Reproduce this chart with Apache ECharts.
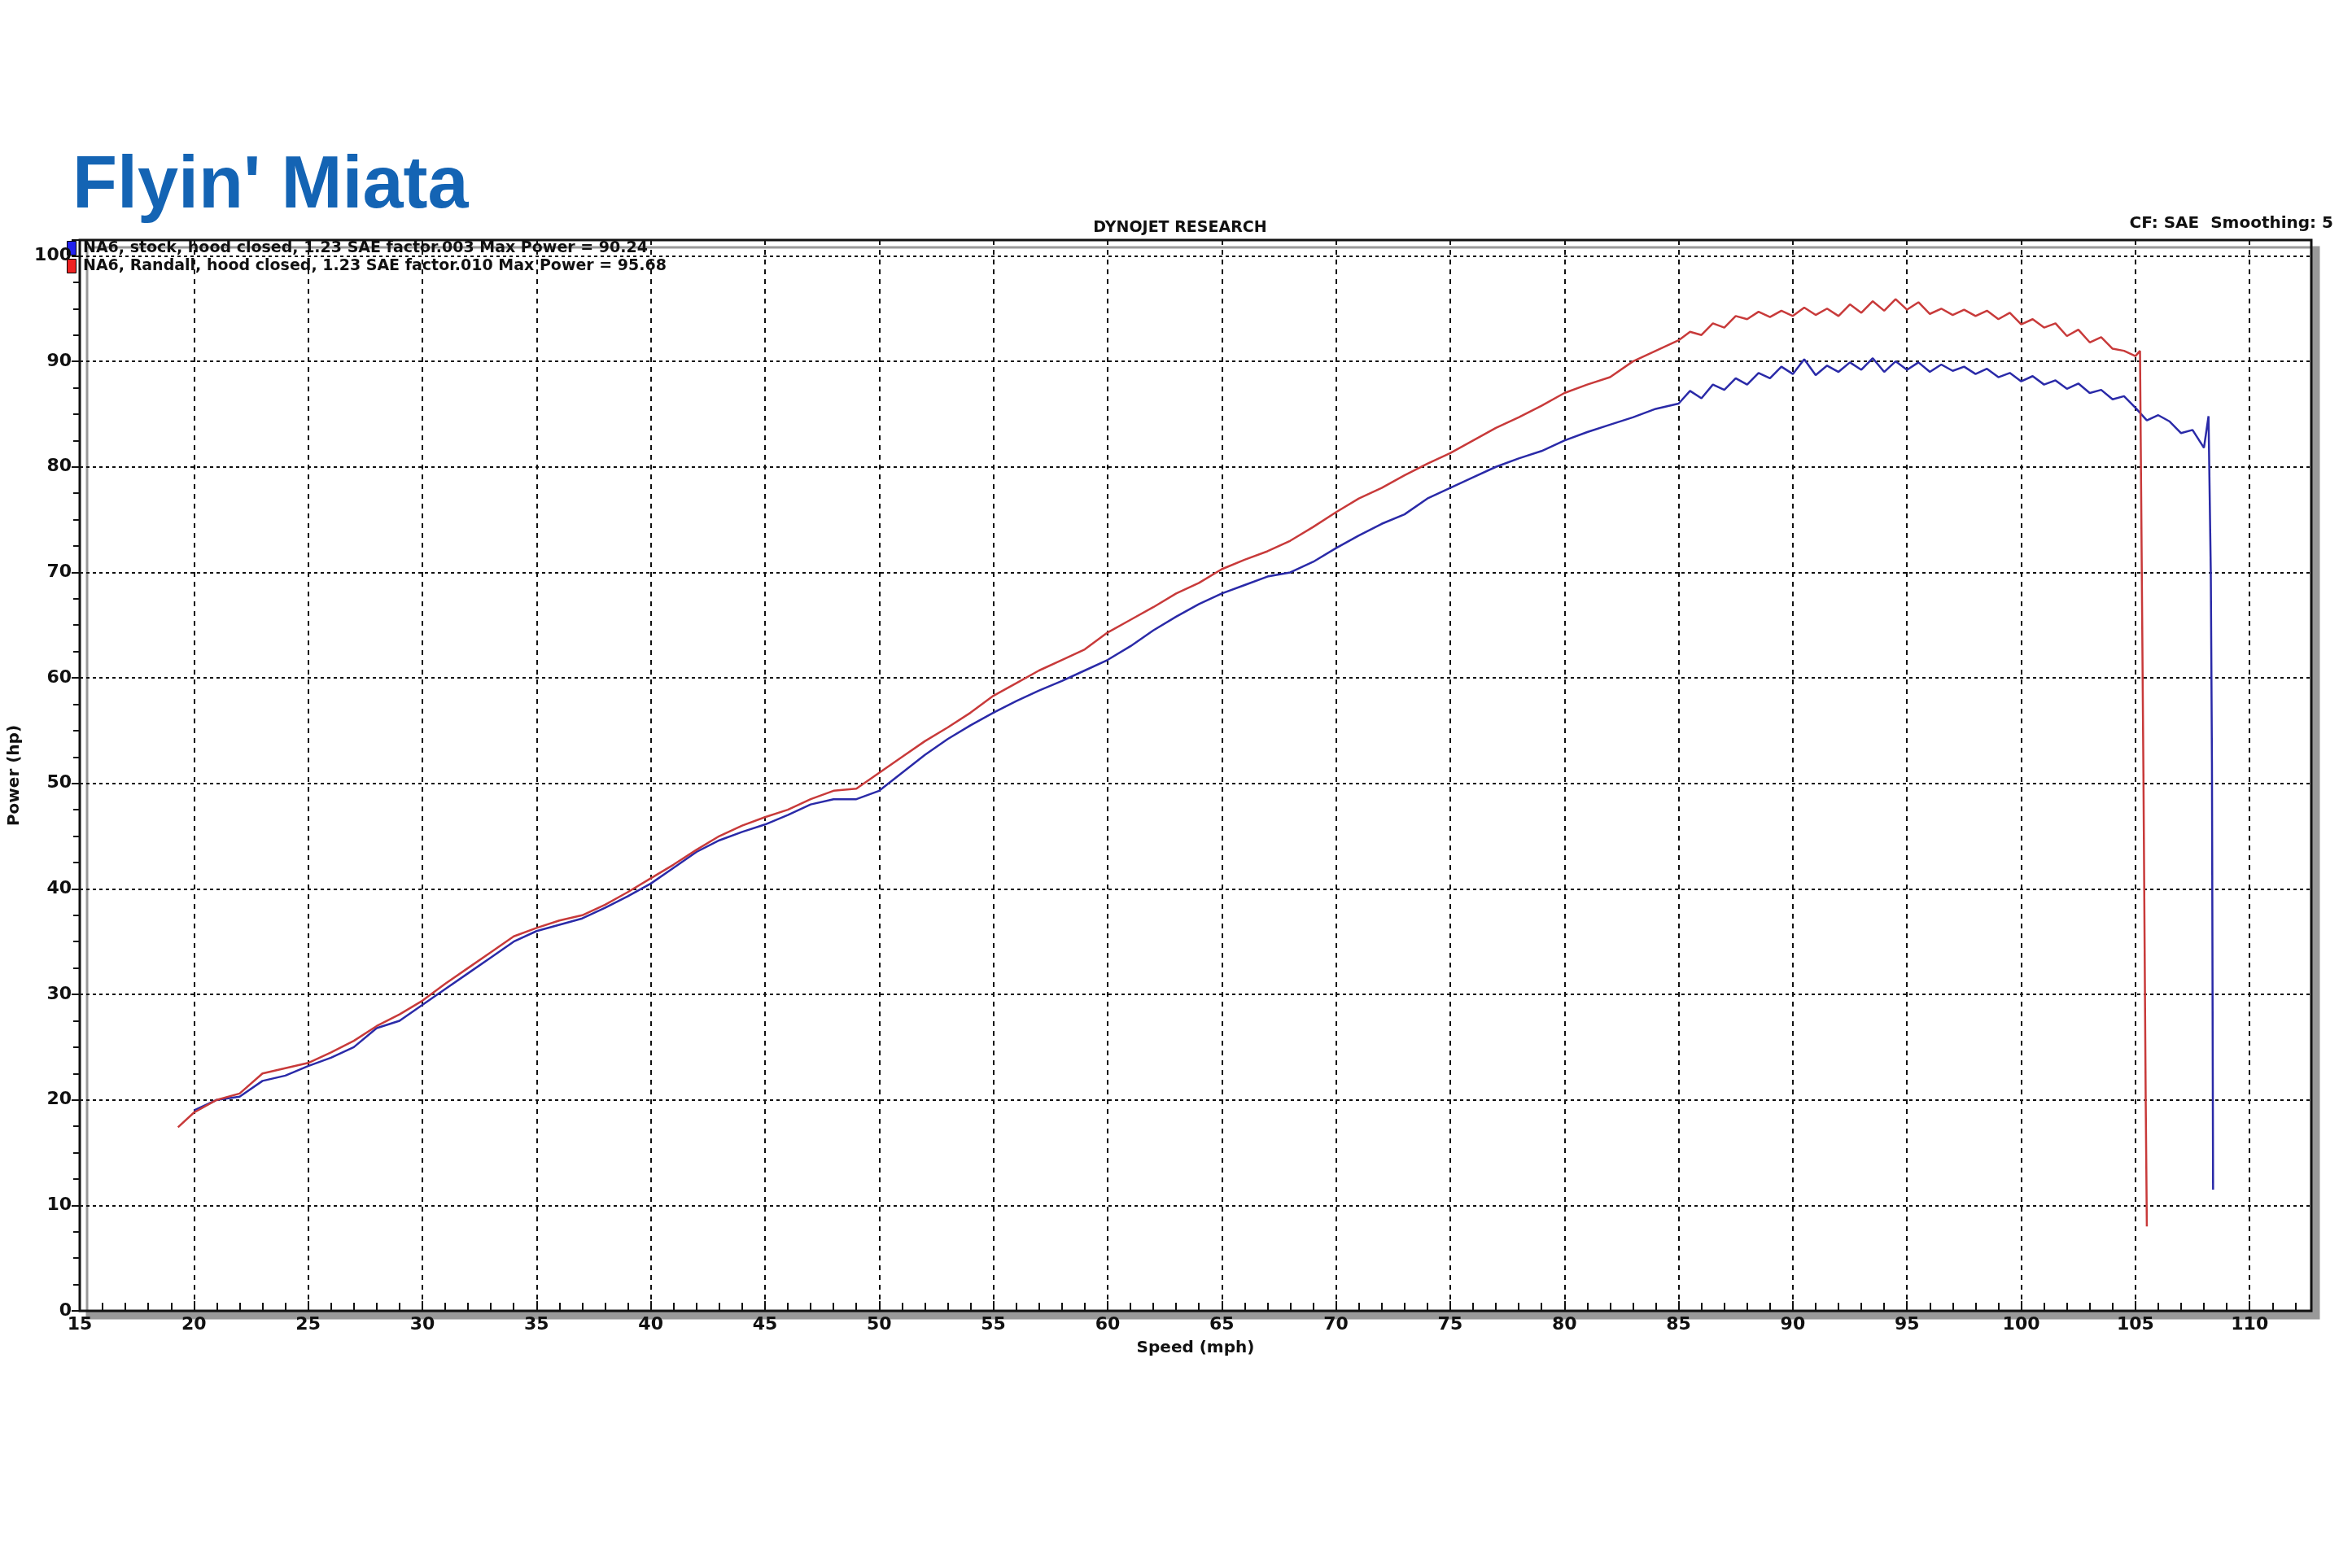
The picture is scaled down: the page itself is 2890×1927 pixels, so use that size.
<!DOCTYPE html>
<html>
<head>
<meta charset="utf-8">
<script src="https://cdn.jsdelivr.net/npm/echarts@6/dist/echarts.min.js"></script>
<style>
  html, body { margin: 0; padding: 0; background: #fff; }
  #chart { width: 2890px; height: 1927px; }
</style>
</head>
<body>
<div id="chart"></div>
<script>
// speed (mph) / power (hp)
const randallSpeed = [19.3, 20, 21, 22, 23, 24, 25, 26, 27, 28, 29, 30, 31, 32, 33, 34, 35, 36, 37, 38, 39,
  40, 41, 42, 43, 44, 45, 46, 47, 48, 49, 50, 51, 52, 53, 54, 55, 56, 57, 58, 59,
  60, 61, 62, 63, 64, 65, 66, 67, 68, 69, 70, 71, 72, 73, 74, 75, 76, 77, 78, 79,
  80, 81, 82, 83, 84, 85, 85.5, 86, 86.5, 87, 87.5, 88, 88.5, 89, 89.5, 90, 90.5, 91, 91.5, 92, 92.5,
  93, 93.5, 94, 94.5, 95, 95.5, 96, 96.5, 97, 97.5, 98, 98.5, 99, 99.5, 100, 100.5, 101, 101.5,
  102, 102.5, 103, 103.5, 104, 104.5, 105, 105.2, 105.35, 105.45, 105.5];
const randallPower = [17.4, 18.8, 20, 20.6, 22.5, 23, 23.5, 24.5, 25.6, 27, 28.1, 29.4, 31, 32.5, 34, 35.5, 36.3, 37, 37.5, 38.5, 39.7,
  41, 42.3, 43.7, 45, 46, 46.8, 47.5, 48.5, 49.3, 49.5, 51, 52.5, 54, 55.3, 56.7, 58.3, 59.5, 60.7, 61.7, 62.7,
  64.3, 65.5, 66.7, 68, 69, 70.3, 71.2, 72, 73, 74.3, 75.7, 77, 78, 79.2, 80.3, 81.3, 82.5, 83.7, 84.7, 85.8,
  87, 87.8, 88.5, 90, 91, 92, 92.8, 92.5, 93.6, 93.2, 94.3, 94.0, 94.7, 94.2, 94.8, 94.3, 95.1, 94.4, 95.0, 94.3, 95.4,
  94.6, 95.7, 94.8, 95.9, 94.9, 95.6, 94.5, 95.0, 94.4, 94.9, 94.3, 94.8, 94.0, 94.6, 93.5, 94.0, 93.2, 93.6,
  92.4, 93.0, 91.8, 92.3, 91.2, 91.0, 90.5, 91.0, 51, 20, 8];

const stockSpeed = [20, 21, 22, 23, 24, 25, 26, 27, 28, 29, 30, 31, 32, 33, 34, 35, 36, 37, 38, 39,
  40, 41, 42, 43, 44, 45, 46, 47, 48, 49, 50, 51, 52, 53, 54, 55, 56, 57, 58, 59,
  60, 61, 62, 63, 64, 65, 66, 67, 68, 69, 70, 71, 72, 73, 74, 75, 76, 77, 78, 79,
  80, 81, 82, 83, 84, 85, 85.5, 86, 86.5, 87, 87.5, 88, 88.5, 89, 89.5, 90, 90.5, 91, 91.5, 92, 92.5,
  93, 93.5, 94, 94.5, 95, 95.5, 96, 96.5, 97, 97.5, 98, 98.5, 99, 99.5, 100, 100.5, 101, 101.5,
  102, 102.5, 103, 103.5, 104, 104.5, 105, 105.5, 106, 106.5, 107, 107.5, 108, 108.2, 108.3, 108.35, 108.4];
const stockPower = [19, 20, 20.3, 21.8, 22.3, 23.2, 24, 25, 26.8, 27.5, 29, 30.5, 32, 33.5, 35, 36, 36.6, 37.2, 38.2, 39.3,
  40.5, 42, 43.5, 44.6, 45.4, 46.1, 47, 48, 48.5, 48.5, 49.3, 51, 52.7, 54.2, 55.5, 56.7, 57.8, 58.8, 59.7, 60.7,
  61.7, 63, 64.5, 65.8, 67, 68, 68.8, 69.6, 70, 71, 72.3, 73.5, 74.6, 75.5, 77, 78, 79, 80, 80.8, 81.5,
  82.5, 83.3, 84, 84.7, 85.5, 86.0, 87.2, 86.5, 87.8, 87.3, 88.4, 87.8, 88.9, 88.4, 89.5, 88.8, 90.2, 88.7, 89.6, 89.0, 89.9,
  89.2, 90.3, 89.0, 90.0, 89.2, 89.9, 89.0, 89.7, 89.1, 89.5, 88.8, 89.3, 88.5, 88.9, 88.1, 88.6, 87.8, 88.2,
  87.4, 87.9, 87.0, 87.3, 86.4, 86.7, 85.6, 84.4, 84.9, 84.3, 83.2, 83.5, 81.8, 84.8, 70, 52, 11.5];

const stockLabel = 'NA6, stock, hood closed, 1.23 SAE factor.003 Max Power = 90.24';
const randallLabel = 'NA6, Randall, hood closed, 1.23 SAE factor.010 Max Power = 95.68';

const pairs = (xs, ys) => xs.map((x, i) => [x, ys[i]]);
const font = 'Verdana, "DejaVu Sans", sans-serif';

const chart = echarts.init(document.getElementById('chart'));
chart.setOption({
  backgroundColor: '#fff',
  animation: false,
  grid: {
    left: 86, right: 50, top: 295, bottom: 316,
    show: true, backgroundColor: '#fff', borderColor: '#111', borderWidth: 3,
    shadowColor: '#999', shadowOffsetX: 9, shadowOffsetY: 9, shadowBlur: 0,
  },
  title: [
    { text: 'DYNOJET RESEARCH', left: 1445, top: 266, textAlign: 'center',
      textStyle: { fontFamily: font, fontSize: 19, fontWeight: 'bold', color: '#111' } },
    { text: 'CF: SAE  Smoothing: 5', right: 18, top: 260,
      textStyle: { fontFamily: font, fontSize: 20, fontWeight: 'bold', color: '#111' } },
    { text: "Flyin' Miata", left: 84, top: 180,
      textStyle: { fontFamily: '"Liberation Sans", Arial, sans-serif', fontSize: 90, fontWeight: 'bold', color: '#1464b4' } },
  ],
  graphic: [
    { type: 'rect', left: 82, top: 296, shape: { width: 11, height: 17 }, style: { fill: '#2222ee', stroke: '#000', lineWidth: 1 } },
    { type: 'rect', left: 82, top: 318, shape: { width: 11, height: 17 }, style: { fill: '#ee2222', stroke: '#000', lineWidth: 1 } },
    { type: 'text', left: 102, top: 296, style: { text: stockLabel, font: 'bold 19px ' + font, fill: '#111' } },
    { type: 'text', left: 102, top: 318, style: { text: randallLabel, font: 'bold 19px ' + font, fill: '#111' } },
  ],
  xAxis: {
    type: 'value', min: 15, max: 112.7, interval: 5,
    name: 'Speed (mph)', nameLocation: 'middle', nameGap: 36,
    nameTextStyle: { fontFamily: font, fontSize: 20, fontWeight: 'bold', color: '#111' },
    axisLine: { show: false },
    axisTick: { show: true, inside: true, length: 12, lineStyle: { color: '#111', width: 2 } },
    minorTick: { show: true, splitNumber: 5, length: 10, lineStyle: { color: '#111', width: 2 } },
    axisLabel: { showMaxLabel: false, margin: 6, fontFamily: font, fontSize: 22, fontWeight: 'bold', color: '#111' },
    splitLine: { show: true, lineStyle: { color: '#111', type: [6, 6], width: 2 } },
  },
  yAxis: {
    type: 'value', min: 0, max: 101.5, interval: 10,
    name: 'Power (hp)', nameLocation: 'middle', nameGap: 70, nameRotate: 90,
    nameTextStyle: { fontFamily: font, fontSize: 20, fontWeight: 'bold', color: '#111' },
    axisLine: { show: false },
    axisTick: { show: true, length: 10, lineStyle: { color: '#111', width: 2 } },
    minorTick: { show: true, splitNumber: 4, length: 8, lineStyle: { color: '#111', width: 2 } },
    axisLabel: { showMaxLabel: false, margin: 10, fontFamily: font, fontSize: 22, fontWeight: 'bold', color: '#111' },
    splitLine: { show: true, lineStyle: { color: '#111', type: [4, 4], width: 2 } },
  },
  series: [
    { name: stockLabel, type: 'line', data: pairs(stockSpeed, stockPower), showSymbol: false,
      lineStyle: { color: '#2a2aa8', width: 2.5 }, z: 3 },
    { name: randallLabel, type: 'line', data: pairs(randallSpeed, randallPower), showSymbol: false,
      lineStyle: { color: '#c83a3a', width: 2.5 }, z: 4 },
  ],
});
</script>
</body>
</html>
